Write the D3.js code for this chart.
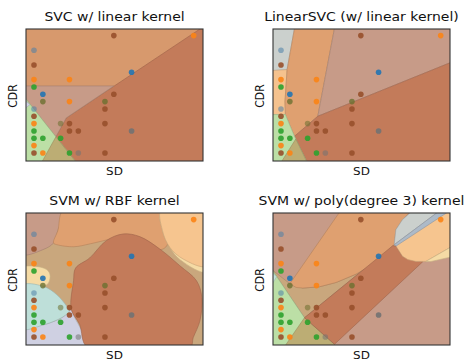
<!DOCTYPE html>
<html>
<head>
<meta charset="utf-8">
<script src="https://cdn.jsdelivr.net/npm/d3@7"></script>
<style>
  html, body { margin: 0; padding: 0; background: #fff; }
  svg { display: block; font-family: "DejaVu Sans", sans-serif; }
</style>
</head>
<body>
<svg id="chart" width="474" height="362"></svg>
<script>
const TITLES = ["SVC w/ linear kernel", "LinearSVC (w/ linear kernel)",
                "SVM w/ RBF kernel", "SVM w/ poly(degree 3) kernel"];
const X_LABEL = "SD";
const Y_LABEL = "CDR";

// samples: SD, CDR, class, and how many samples sit on the same spot
const SD    = [9, 18, 0, 0, 0, 4, 0, 11, 1, 1, 4, 8, 9, 8, 0, 0, 0, 3, 4, 8, 0, 4, 5, 11, 0, 1, 3, 0, 0, 1, 4, 5, 8];
const CDR   = [16, 16, 14, 12, 10, 10, 9, 11, 8, 7, 7, 7, 8, 6, 6, 5, 4, 4, 4, 4, 3, 3, 3, 3, 2, 2, 2, 1, 0, 0, 0, 0, 0];
const LABEL = ["brown", "orange", "slate", "brown", "orange", "orange", "green", "blue", "blue", "olive",
               "orange", "olive", "brown", "brown", "slate", "brown", "orange", "olive", "brown", "brown",
               "green", "brown", "brown", "gray", "green", "green", "green", "orange", "brown", "orange",
               "green", "gray", "brown"];
const STACK = [3, 3, 1, 3, 3, 3, 3, 3, 3, 2, 3, 2, 3, 3, 1, 3, 3, 1, 3, 3, 3, 3, 3, 3, 3, 3, 3, 3, 3, 3, 3, 1, 3];

// decision regions, [class, boundary in (SD, CDR)], painted in order
const SVC_REGIONS = [
  ["tan",    [[-1.5, -1.5], [-1.5, 17.5], [19.5, 17.5], [19.5, -1.5]]],
  ["dark",   [[0.77, -1.5], [3.63, 4.77], [19.2, 17.3], [19.5, 17.3], [19.5, -1.5]]],
  ["mauve",  [[-1.5, 9.14], [9.0, 9.14], [3.63, 4.77], [2.47, 2.2], [-1.5, 8.26]]],
  ["green",  [[-1.5, 8.26], [4.9, -1.5], [-1.5, -1.5]]],
  ["olive",  [[0.77, -1.5], [2.47, 2.2], [4.9, -1.5]]],
  ["lilac",  [[-1.5, 7.6], [-0.45, 6.6], [-1.5, 5.6]]]
];
const LSVC_REGIONS = [
  ["gray",   [[-1.5, 17.5], [1.6, 17.5], [0.69, 11.36], [-1.5, 11.2]]],
  ["pale",   [[-1.5, 11.2], [0.69, 11.36], [0.45, 7.0], [0.5, 5.23], [-1.5, 5.23]]],
  ["orange", [[1.6, 17.5], [6.11, 17.5], [4.15, 5.0], [1.52, 2.27], [0.5, 5.23], [0.45, 7.0], [0.69, 11.36]]],
  ["mauve",  [[6.11, 17.5], [19.5, 17.5], [19.5, 12.51], [4.15, 5.0]]],
  ["dark",   [[4.15, 5.0], [19.5, 12.51], [19.5, -1.5], [3.03, -1.5], [1.52, 2.27]]],
  ["green",  [[-1.5, 5.23], [0.5, 5.23], [1.52, 2.27], [3.03, -1.5], [-1.5, -1.5]]],
  ["olive",  [[-0.1, -1.5], [1.67, 1.9], [3.03, -1.5]]]
];
const RBF_REGIONS = [
  ["khaki",  [[-1.5, -1.5], [-1.5, 17.5], [19.5, 17.5], [19.5, -1.5]]],
  ["mauve",  [[-1.5, 17.5], [3.44, 17.5], [2.69, 14.5], [2.2, 12.81], [1.0, 11.9], [-1.5, 11.3]]],
  ["orange", [[2.2, 12.81], [2.69, 14.5], [3.44, 17.5], [15, 17.5], [15, 12.5], [14.18, 11.9], [11.9, 13.5],
              [10, 13.9], [8.98, 13.49], [6.34, 12.7], [4.5, 12.3], [2.58, 12.58]]],
  ["cream",  [[14.37, 17.5], [14.48, 14.5], [15.31, 12.22], [16.5, 10.5], [19.5, 8.9], [19.5, 17.5]]],
  ["peach",  [[14.37, 17.5], [14.48, 14.5], [15.31, 12.22], [16.82, 10.62], [19.5, 9.7], [19.5, 17.5]]],
  ["lilac",  [[-1.5, 1.3], [1.07, 1.64], [3.33, 2.78], [4.1, 3.7], [4.6, 2.6], [5.3, 1.0], [6.1, -1.5], [-1.5, -1.5]]],
  ["dark",   [[4.2, 3.79], [4.46, 7.66], [4.69, 9.39], [6.27, 10.76], [8.15, 13.13], [10.04, 14.04], [11.92, 13.68],
              [14.18, 11.99], [16.44, 9.71], [18.32, 7.66], [18.92, 5.38], [18.7, 2.19], [17.95, -0.09],
              [17.57, -1.5], [6.08, -1.5], [5.14, 1.73]]],
  ["cream",  [[-1.5, 9.4], [0.69, 9.53], [1.6, 9.0], [1.82, 8.25], [1.45, 7.11], [-1.5, 6.95]]],
  ["ice",    [[-1.5, 6.98], [1.07, 6.89], [2.58, 5.75], [3.71, 4.15], [4.0, 3.56], [3.33, 2.78], [1.07, 1.64], [-1.5, 1.15]]]
];
const POLY_REGIONS = [
  ["mauve",  [[-1.5, -1.5], [-1.5, 17.5], [19.5, 17.5], [19.5, -1.5]]],
  ["khaki",  [[-1, 9.16], [1.0, 7.25], [2.46, 6.66], [4.34, 6.84], [6.22, 7.43], [8.47, 8.57], [10.73, 10.17],
              [12.42, 12.22], [12.61, 12.45], [2.65, 2.62]]],
  ["green",  [[-1.5, 10.06], [2.65, 2.62], [6.03, -1], [6.03, -1.5], [-1.5, -1.5]]],
  ["olive",  [[0.3, -1.5], [2.65, 2.62], [6.03, -1], [6.03, -1.5]]],
  ["teal",   [[-1.5, 9.4], [-0.5, 8.2], [-1.5, 6.2]]],
  ["orange", [[1.0, 7.25], [6.88, 17.5], [14.9, 17.5], [13.7, 16.0], [12.95, 14.63], [12.76, 12.58], [12.42, 12.22],
              [10.73, 10.17], [8.47, 8.57], [6.22, 7.43], [4.34, 6.84], [2.46, 6.66], [1.7, 6.75]]],
  ["dark",   [[2.65, 2.62], [12.61, 12.45], [12.98, 12.35], [13.7, 10.99], [15.2, 10.3], [16.0, 10.28], [6.03, -1]]],
  ["peach",  [[12.98, 12.35], [12.95, 12.58], [18.77, 17.1], [19.5, 17.5], [19.5, 12.5], [18.96, 12.13],
              [16.33, 10.3], [15.2, 10.3], [14.3, 10.55], [13.7, 10.99]]],
  ["cream",  [[16.3, 10.28], [19.5, 12.5], [19.5, 11.0], [16.9, 10.28]]],
  ["gray",   [[12.76, 12.58], [12.95, 14.63], [13.7, 16.0], [14.64, 17], [14.9, 17.5], [18.2, 17.5]]],
  ["steel",  [[12.76, 12.58], [18.2, 17.5], [19.4, 17.5], [12.98, 12.4]]]
];
const PANELS = [SVC_REGIONS, LSVC_REGIONS, RBF_REGIONS, POLY_REGIONS];
const SMOOTH = [false, false, true, false];

const FILL = {
  tan: "#d7996d", dark: "#c37b5a", mauve: "#c79b88", green: "#bcdfa6", olive: "#bcad74",
  lilac: "#cfd0e2", gray: "#cbd0cd", pale: "#f5c28e", orange: "#dfa070", khaki: "#c9a77d",
  cream: "#f5dba5", peach: "#f6c58f", ice: "#bedfd9", teal: "#c3e4da", steel: "#adbac8"
};
const DOT = {
  blue: "#2474b2", orange: "#fb8416", green: "#2ea22e", brown: "#98502c",
  gray: "#727272", slate: "#4c7fa8", olive: "#6b7030"
};

const svg = d3.select("#chart");
const PW = 177, PH = 132;
const LEFTS = [26, 273], TOPS = [29, 213];
const SQUISH = 0.9;

const x = d3.scaleLinear().domain([-0.9, 19.05]).range([0, PW]);
const y = d3.scaleLinear().domain([-1.1, 16.9]).range([PH, 0]);

PANELS.forEach((regions, i) => {
  const g = svg.append("g")
    .attr("transform", `translate(${LEFTS[i % 2]},${TOPS[Math.floor(i / 2)]})`);

  g.append("clipPath").attr("id", "clip" + i)
    .append("rect").attr("width", PW).attr("height", PH);

  const line = d3.line().x(d => x(d[0])).y(d => y(d[1]))
    .curve(SMOOTH[i] ? d3.curveCatmullRomClosed.alpha(0.5) : d3.curveLinearClosed);

  g.append("g").attr("clip-path", `url(#clip${i})`)
    .selectAll("path").data(regions).join("path")
    .attr("d", d => line(d[1]))
    .attr("fill", d => FILL[d[0]])
    .attr("stroke", d => d3.color(FILL[d[0]]).darker(0.6))
    .attr("stroke-width", 0.6);

  g.append("g").selectAll("circle").data(d3.range(SD.length)).join("circle")
    .attr("cx", k => x(SD[k]))
    .attr("cy", k => y(CDR[k]))
    .attr("r", 2.8)
    .attr("fill", k => DOT[LABEL[k]])
    .attr("fill-opacity", k => 1 - Math.pow(0.45, STACK[k]));

  g.append("rect").attr("width", PW).attr("height", PH)
    .attr("fill", "none").attr("stroke", "#333").attr("stroke-width", 1.1);

  g.append("text")
    .attr("transform", `translate(${PW / 2},-8) scale(1,${SQUISH})`)
    .attr("text-anchor", "middle").attr("font-size", 14).attr("fill", "#111")
    .text(TITLES[i]);

  g.append("text")
    .attr("transform", `translate(${PW / 2},${PH + 14}) scale(1,${SQUISH})`)
    .attr("text-anchor", "middle").attr("font-size", 12).attr("fill", "#111")
    .text(X_LABEL);

  g.append("text")
    .attr("transform", `translate(-9,${PH / 2 + 1}) scale(1,${SQUISH}) rotate(-90)`)
    .attr("text-anchor", "middle").attr("font-size", 12).attr("fill", "#111")
    .text(Y_LABEL);
});
</script>
</body>
</html>
